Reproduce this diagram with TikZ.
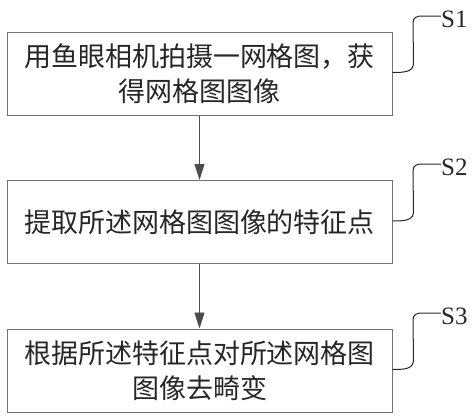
\documentclass[tikz,border=0pt]{standalone}
\usepackage{fontspec}
\newfontfamily\cjk{Noto Sans CJK SC}
\newfontfamily\lab{Liberation Serif}
\usetikzlibrary{arrows.meta,calc}
\begin{document}
\begin{tikzpicture}[x=1pt,y=-1pt,
  stepbox/.style={draw=black!55, line width=1pt, minimum width=385pt, minimum height=83pt, inner sep=0pt,
    align=center, font=\cjk\fontsize{27}{35}\selectfont, text=black!85},
  flow/.style={draw=black!70, line width=0.9pt, -{Triangle[length=16pt,width=10pt]}},
  lead/.style={draw=black!85, line width=1pt},
  steplab/.style={font=\lab\fontsize{25}{25}\selectfont, text=black!85, anchor=west, inner sep=0pt}]
\useasboundingbox (0,0) rectangle (474,418);
\node[stepbox] (b1) at (199.5,73.5) {用鱼眼相机拍摄一网格图，获\\得网格图图像};
\node[stepbox] (b2) at (199.5,222) {提取所述网格图图像的特征点};
\node[stepbox] (b3) at (199.5,370.5) {根据所述特征点对所述网格图\\图像去畸变};
\draw[flow] (b1.south) -- (b2.north);
\draw[flow] (b2.south) -- (b3.north);
\node[steplab] (s1) at (441,19) {S1};
\node[steplab] (s2) at (441,167) {S2};
\node[steplab] (s3) at (441,316) {S3};
\foreach \b/\s in {b1/s1,b2/s2,b3/s3}{
  \draw[lead] ($(\b.east)+(0,-1)$) .. controls +(14,0) and +(0,9) .. ++(21,-10)
     -- ($(\s.west)+(-28,4)$) .. controls +(0,-6) and +(-6,0) .. ($(\s.west)+(-18,-3)$) -- ($(\s.west)+(0,-3)$);
}
\end{tikzpicture}
\end{document}
